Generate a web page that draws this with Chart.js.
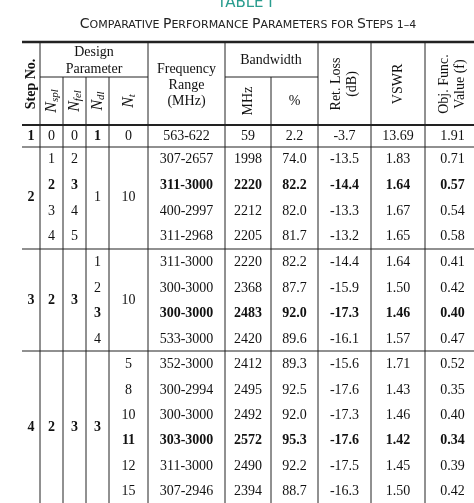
<!DOCTYPE html>
<html><head><meta charset="utf-8">
<script src="https://cdn.jsdelivr.net/npm/chart.js@4/dist/chart.umd.min.js"></script>
<style>html,body{margin:0;padding:0;background:#fff}canvas{display:block}</style>
</head><body>
<canvas id="c" width="474" height="503"></canvas>
<script>
// table data
const stepLabels = ['1', '2', '3', '4'];
const stepRows = [[0, 0], [1, 4], [5, 8], [9, 14]];
const freqRange = ['563-622', '307-2657', '311-3000', '400-2997', '311-2968', '311-3000', '300-3000', '300-3000', '533-3000',
  '352-3000', '300-2994', '300-3000', '303-3000', '311-3000', '307-2946'];
const bwMHz = ['59', '1998', '2220', '2212', '2205', '2220', '2368', '2483', '2420', '2412', '2495', '2492', '2572', '2490', '2394'];
const bwPct = ['2.2', '74.0', '82.2', '82.0', '81.7', '82.2', '87.7', '92.0', '89.6', '89.3', '92.5', '92.0', '95.3', '92.2', '88.7'];
const retLoss = ['-3.7', '-13.5', '-14.4', '-13.3', '-13.2', '-14.4', '-15.9', '-17.3', '-16.1', '-15.6', '-17.6', '-17.3', '-17.6', '-17.5', '-16.3'];
const vswr = ['13.69', '1.83', '1.64', '1.67', '1.65', '1.64', '1.50', '1.46', '1.57', '1.71', '1.43', '1.46', '1.42', '1.45', '1.50'];
const objFunc = ['1.91', '0.71', '0.57', '0.54', '0.58', '0.41', '0.42', '0.40', '0.47', '0.52', '0.35', '0.40', '0.34', '0.39', '0.42'];
const boldRows = [2, 7, 12];
// design parameter cells: [firstRow, lastRow, text, bold]
const nSpl = [[0, 0, '0'], [1, 1, '1'], [2, 2, '2', 1], [3, 3, '3'], [4, 4, '4'], [5, 8, '2', 1], [9, 14, '2', 1]];
const nFel = [[0, 0, '0'], [1, 1, '2'], [2, 2, '3', 1], [3, 3, '4'], [4, 4, '5'], [5, 8, '3', 1], [9, 14, '3', 1]];
const nDl = [[0, 0, '1', 1], [1, 4, '1'], [5, 5, '1'], [6, 6, '2'], [7, 7, '3', 1], [8, 8, '4'], [9, 14, '3', 1]];
const nT = [[0, 0, '0'], [1, 4, '10'], [5, 8, '10'], [9, 9, '5'], [10, 10, '8'], [11, 11, '10'], [12, 12, '11', 1], [13, 13, '12'], [14, 14, '15']];

// layout (pixel units of the linear scales)
const colX = [22, 40, 63, 86, 109, 148, 225, 271, 318, 371, 425, 480];
const rowY = [136, 159, 185, 211, 236, 262, 288, 313, 339, 364, 390, 415, 440, 466, 491];
const stepLines = [147, 249, 351];
const SERIF = '"Liberation Serif", "DejaVu Serif", serif';
const FS = 14;

const tablePlugin = {
  id: 'table',
  afterDraw(chart) {
    const ctx = chart.ctx, xs = chart.scales.x, ys = chart.scales.y;
    const X = v => xs.getPixelForValue(v), Y = v => ys.getPixelForValue(v);
    const line = (x1, y1, x2, y2, w) => {
      ctx.beginPath(); ctx.lineWidth = w || 1; ctx.strokeStyle = '#222';
      ctx.moveTo(X(x1), Y(y1)); ctx.lineTo(X(x2), Y(y2)); ctx.stroke();
    };
    const text = (t, x, y, bold, size, italic) => {
      ctx.font = (italic ? 'italic ' : '') + (bold ? 'bold ' : '') + (size || FS) + 'px ' + SERIF;
      ctx.fillStyle = '#111'; ctx.textAlign = 'center'; ctx.textBaseline = 'middle';
      ctx.fillText(t, X(x), Y(y));
    };
    const rot = (lines, x, y, bold, size) => {
      ctx.save(); ctx.translate(X(x), Y(y)); ctx.rotate(-Math.PI / 2);
      ctx.font = (bold ? 'bold ' : '') + (size || FS) + 'px ' + SERIF;
      ctx.fillStyle = '#111'; ctx.textAlign = 'center'; ctx.textBaseline = 'middle';
      lines.forEach((l, i) => ctx.fillText(l, 0, (i - (lines.length - 1) / 2) * 16));
      ctx.restore();
    };
    const rotN = (sub, x, y) => {
      ctx.save(); ctx.translate(X(x), Y(y)); ctx.rotate(-Math.PI / 2);
      ctx.fillStyle = '#111'; ctx.textBaseline = 'middle'; ctx.textAlign = 'left';
      ctx.font = 'italic 16px ' + SERIF;
      const w1 = ctx.measureText('N').width;
      ctx.font = 'italic 11px ' + SERIF;
      const w2 = ctx.measureText(sub).width;
      const x0 = -(w1 + w2) / 2;
      ctx.font = 'italic 16px ' + SERIF; ctx.fillText('N', x0, 0);
      ctx.font = 'italic 11px ' + SERIF; ctx.fillText(sub, x0 + w1, 4);
      ctx.restore();
    };
    const cx = i => (colX[i] + colX[i + 1]) / 2;
    const midRow = (a, b) => (rowY[a] + rowY[b]) / 2;

    // title
    ctx.fillStyle = '#2a9d8f'; ctx.font = '15px "DejaVu Sans", sans-serif';
    ctx.textAlign = 'center'; ctx.textBaseline = 'middle';
    ctx.fillText('TABLE I', X(245), Y(3));
    const title = [['C', 14], ['OMPARATIVE ', 11], ['P', 14], ['ERFORMANCE ', 11], ['P', 14], ['ARAMETERS FOR ', 11], ['S', 14], ['TEPS 1–4', 11]];
    ctx.fillStyle = '#222'; ctx.textAlign = 'left'; ctx.textBaseline = 'alphabetic';
    let tw = 0;
    title.forEach(([s, f]) => { ctx.font = f + 'px "DejaVu Sans", sans-serif'; tw += ctx.measureText(s).width; });
    let tx = X(248) - tw / 2;
    title.forEach(([s, f]) => { ctx.font = f + 'px "DejaVu Sans", sans-serif'; ctx.fillText(s, tx, Y(28)); tx += ctx.measureText(s).width; });

    // rules
    line(22, 42, 480, 42, 2.5);
    line(22, 125, 480, 125, 2);
    line(40, 77, 148, 77); line(225, 77, 318, 77);
    stepLines.forEach(y => line(22, y, 480, y, 1.2));
    colX.slice(1, -1).forEach((x, i) => {
      const j = i + 1;
      const top = (j >= 2 && j <= 4) || j === 7 ? 77 : 42;
      line(x, top, x, 503, 1);
    });

    // header text
    rot(['Step No.'], cx(0), 84, true, FS);
    text('Design', 94, 52); text('Parameter', 94, 69);
    rotN('spl', cx(1), 101); rotN('fel', cx(2), 101); rotN('dl', cx(3), 101); rotN('t', cx(4), 101);
    text('Frequency', cx(5), 69); text('Range', cx(5), 85); text('(MHz)', cx(5), 101);
    text('Bandwidth', 271, 60);
    rot(['MHz'], cx(6), 101); text('%', cx(7), 101);
    rot(['Ret. Loss', '(dB)'], cx(8), 84);
    rot(['VSWR'], cx(9), 84);
    rot(['Obj. Func.', 'Value (f)'], cx(10), 84);

    // body
    stepLabels.forEach((s, i) => text(s, cx(0), midRow(stepRows[i][0], stepRows[i][1]), true));
    [nSpl, nFel, nDl, nT].forEach((cells, k) => cells.forEach(([a, b, t, bd]) => text(t, cx(k + 1), midRow(a, b), !!bd)));
    [freqRange, bwMHz, bwPct, retLoss, vswr, objFunc].forEach((col, k) =>
      col.forEach((t, r) => text(t, cx(k + 5), rowY[r], boldRows.includes(r))));
  }
};

new Chart(document.getElementById('c'), {
  type: 'scatter',
  data: { datasets: [{ data: [] }] },
  options: {
    responsive: false, animation: false,
    layout: { padding: 0 },
    plugins: { legend: { display: false }, tooltip: { enabled: false } },
    scales: {
      x: { type: 'linear', min: 0, max: 474, display: false },
      y: { type: 'linear', min: 0, max: 503, reverse: true, display: false }
    }
  },
  plugins: [tablePlugin]
});
</script>
</body></html>
